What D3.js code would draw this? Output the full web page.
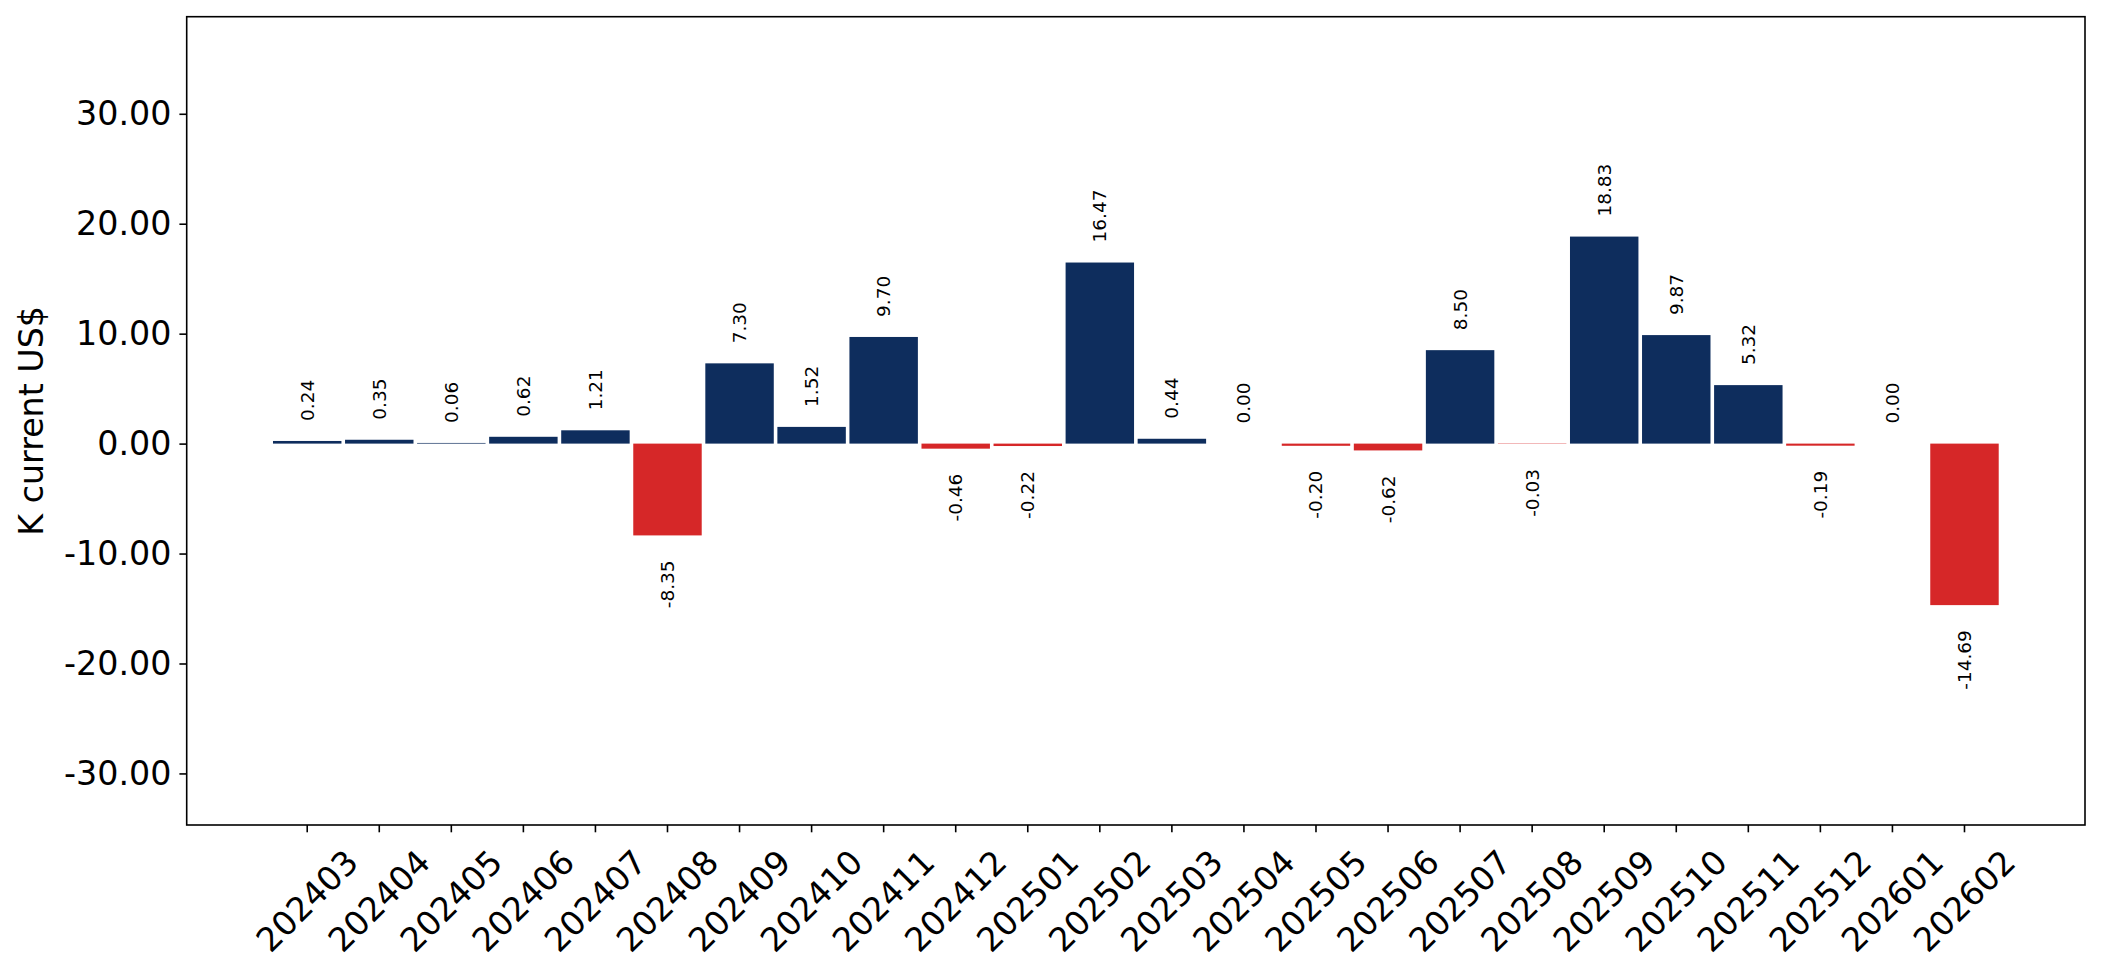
<!DOCTYPE html>
<html>
<head>
<meta charset="utf-8">
<script src="https://cdn.jsdelivr.net/npm/d3@7"></script>
<style>
  body { margin: 0; background: #fff; }
  svg { display: block; font-family: 'DejaVu Sans', sans-serif; }
</style>
</head>
<body>
<svg id="chart" width="2102" height="975"></svg>
<script>
const months = ['202403', '202404', '202405', '202406', '202407', '202408', '202409', '202410',
  '202411', '202412', '202501', '202502', '202503', '202504', '202505', '202506', '202507',
  '202508', '202509', '202510', '202511', '202512', '202601', '202602']
const values = [0.24, 0.35, 0.06, 0.62, 1.21, -8.35, 7.30, 1.52, 9.70, -0.46, -0.22, 16.47,
  0.44, 0.00, -0.20, -0.62, 8.50, -0.03, 18.83, 9.87, 5.32, -0.19, 0.00, -14.69]
const yTicks = [-30, -20, -10, 0, 10, 20, 30]

const data = months.map((m, i) => ({ month: m, value: values[i] }))

const svg = d3.select('#chart')
const plotLeft = 186.7, plotRight = 2085, plotTop = 16.7, plotBottom = 825

const x = d3.scaleBand()
  .domain(months)
  .range([plotLeft, plotRight])
  .paddingInner(0.05)
  .paddingOuter(1.1975)

const yMin = d3.min(values) - 20, yMax = d3.max(values) + 20
const y = d3.scaleLinear().domain([yMin, yMax]).range([plotBottom, plotTop])

const fmt = v => v.toFixed(2)

// bars
svg.append('g').selectAll('rect')
  .data(data)
  .enter().append('rect')
  .attr('x', d => x(d.month))
  .attr('width', x.bandwidth())
  .attr('y', d => y(Math.max(0, d.value)))
  .attr('height', d => Math.abs(y(d.value) - y(0)))
  .attr('fill', d => d.value >= 0 ? '#0e2d5d' : '#d62728')

// value labels
svg.append('g').selectAll('text')
  .data(data)
  .enter().append('text')
  .attr('transform', d => {
    const cx = x(d.month) + x.bandwidth() / 2
    const cy = d.value >= 0 ? y(d.value) - 20 : y(d.value) + 25
    return 'translate(' + cx + ',' + cy + ') rotate(-90)'
  })
  .attr('text-anchor', d => d.value >= 0 ? 'start' : 'end')
  .attr('dominant-baseline', 'central')
  .style('font-size', '18.5px')
  .text(d => fmt(d.value))

// y axis
const yAxis = svg.append('g')
  .attr('transform', 'translate(' + plotLeft + ',0)')
  .call(d3.axisLeft(y).tickValues(yTicks).tickSize(7.3).tickPadding(8)
    .tickFormat(v => fmt(v)))
yAxis.select('.domain').remove()
yAxis.selectAll('line').attr('stroke', '#000').attr('stroke-width', 1.6)
yAxis.selectAll('text').style('font-size', '33.3px').attr('fill', '#000')
  .attr('font-family', 'DejaVu Sans')

// x axis
const xAxis = svg.append('g')
  .attr('transform', 'translate(0,' + plotBottom + ')')
  .call(d3.axisBottom(x).tickSize(7.3).tickPadding(0))
xAxis.select('.domain').remove()
xAxis.selectAll('line').attr('stroke', '#000').attr('stroke-width', 1.6)
xAxis.selectAll('text')
  .attr('y', 0).attr('dy', null)
  .attr('text-anchor', 'middle')
  .attr('dominant-baseline', 'central')
  .attr('transform', 'translate(0,76) rotate(-45)')
  .attr('fill', '#000')
  .attr('font-family', 'DejaVu Sans')
  .style('font-size', '33.3px')

// frame
svg.append('rect')
  .attr('x', plotLeft).attr('y', plotTop)
  .attr('width', plotRight - plotLeft).attr('height', plotBottom - plotTop)
  .attr('fill', 'none').attr('stroke', '#000').attr('stroke-width', 1.6)

// y label
svg.append('text')
  .attr('transform', 'translate(31,' + (plotTop + plotBottom) / 2 + ') rotate(-90)')
  .attr('text-anchor', 'middle')
  .attr('dominant-baseline', 'central')
  .style('font-size', '33.3px')
  .text('K current US$')
</script>
</body>
</html>
